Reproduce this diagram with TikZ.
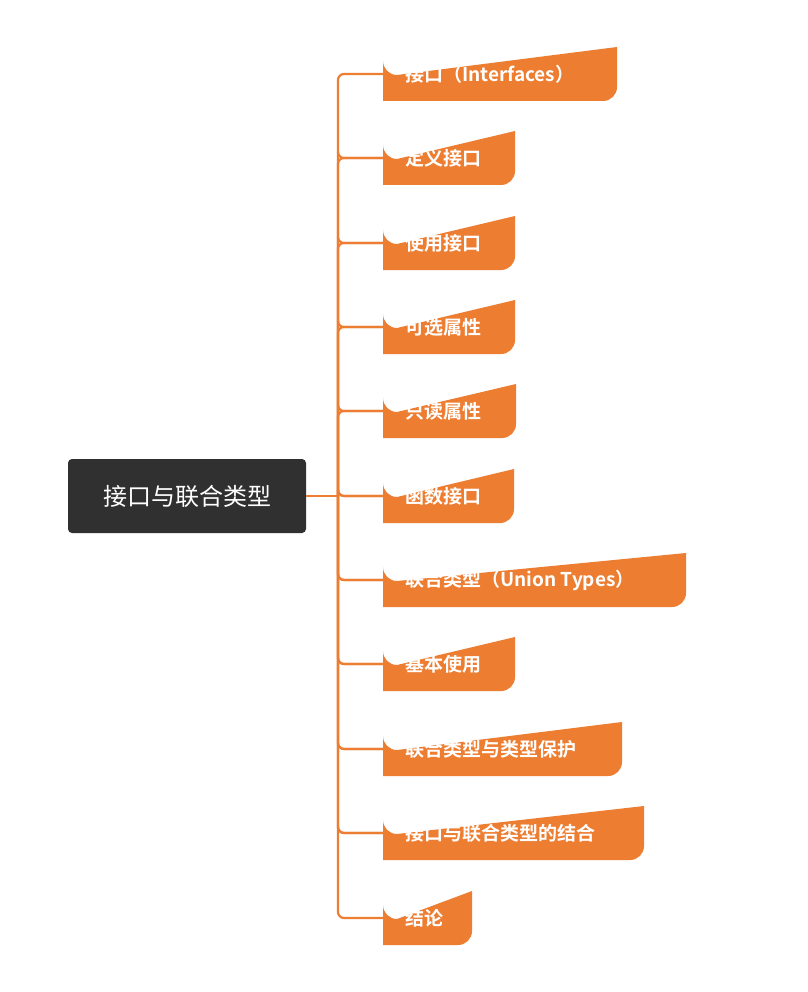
\documentclass[tikz,border=0pt]{standalone}
\usepackage{fontspec}
\newfontfamily\cjk{Noto Sans CJK SC}
\newfontfamily\cjkb{Noto Sans CJK SC Bold}
\definecolor{org}{HTML}{ED7D31}
\definecolor{dark}{HTML}{303030}
\tikzset{
  lbl/.style={anchor=west,text=white,font=\cjkb\fontsize{19}{22}\selectfont,inner sep=0pt},
  conn/.style={draw=org,line width=2.2pt,rounded corners=6pt},
}
\begin{document}
\begin{tikzpicture}[x=1pt,y=-1pt]
\useasboundingbox (0,0) rectangle (807,992);
\fill[white] (0,0) rectangle (807,992);
\fill[dark,rounded corners=4pt] (68,459) rectangle (306,533);
\node[text=white,font=\cjk\fontsize{24}{28}\selectfont,inner sep=0pt] (root) at (187,496) {接口与联合类型};
\coordinate (rootE) at (306,496);
\coordinate (trunk) at (338,496);
\draw[conn] (rootE) -- (trunk);
\foreach \i/\y/\r/\t in {1/74/617/接口（Interfaces）,2/158/515/定义接口,3/243/515/使用接口,4/327/515/可选属性,5/411/516/只读属性,6/496/514/函数接口,7/580/686/联合类型（Union Types）,8/664/515/基本使用,9/749/622/联合类型与类型保护,10/833/644/接口与联合类型的结合,11/918/472/结论}{
  \fill[org] (383,\y+27) -- (383,\y-13) arc[start angle=180,end angle=90,radius=14] -- (\r,\y-27) -- (\r,\y+13) arc[start angle=0,end angle=90,radius=14] -- cycle;
  \coordinate (b\i) at (383,\y);
  \node[lbl] (n\i) at (405,\y) {\t};
}
\draw[conn] (b1) -| (trunk) |- (b11);
\foreach \i in {2,...,10}{ \draw[conn] (b\i) -| (trunk); \draw[conn] (trunk |- b\i) ++(0,-6) |- (b\i); }
\end{tikzpicture}
\end{document}
